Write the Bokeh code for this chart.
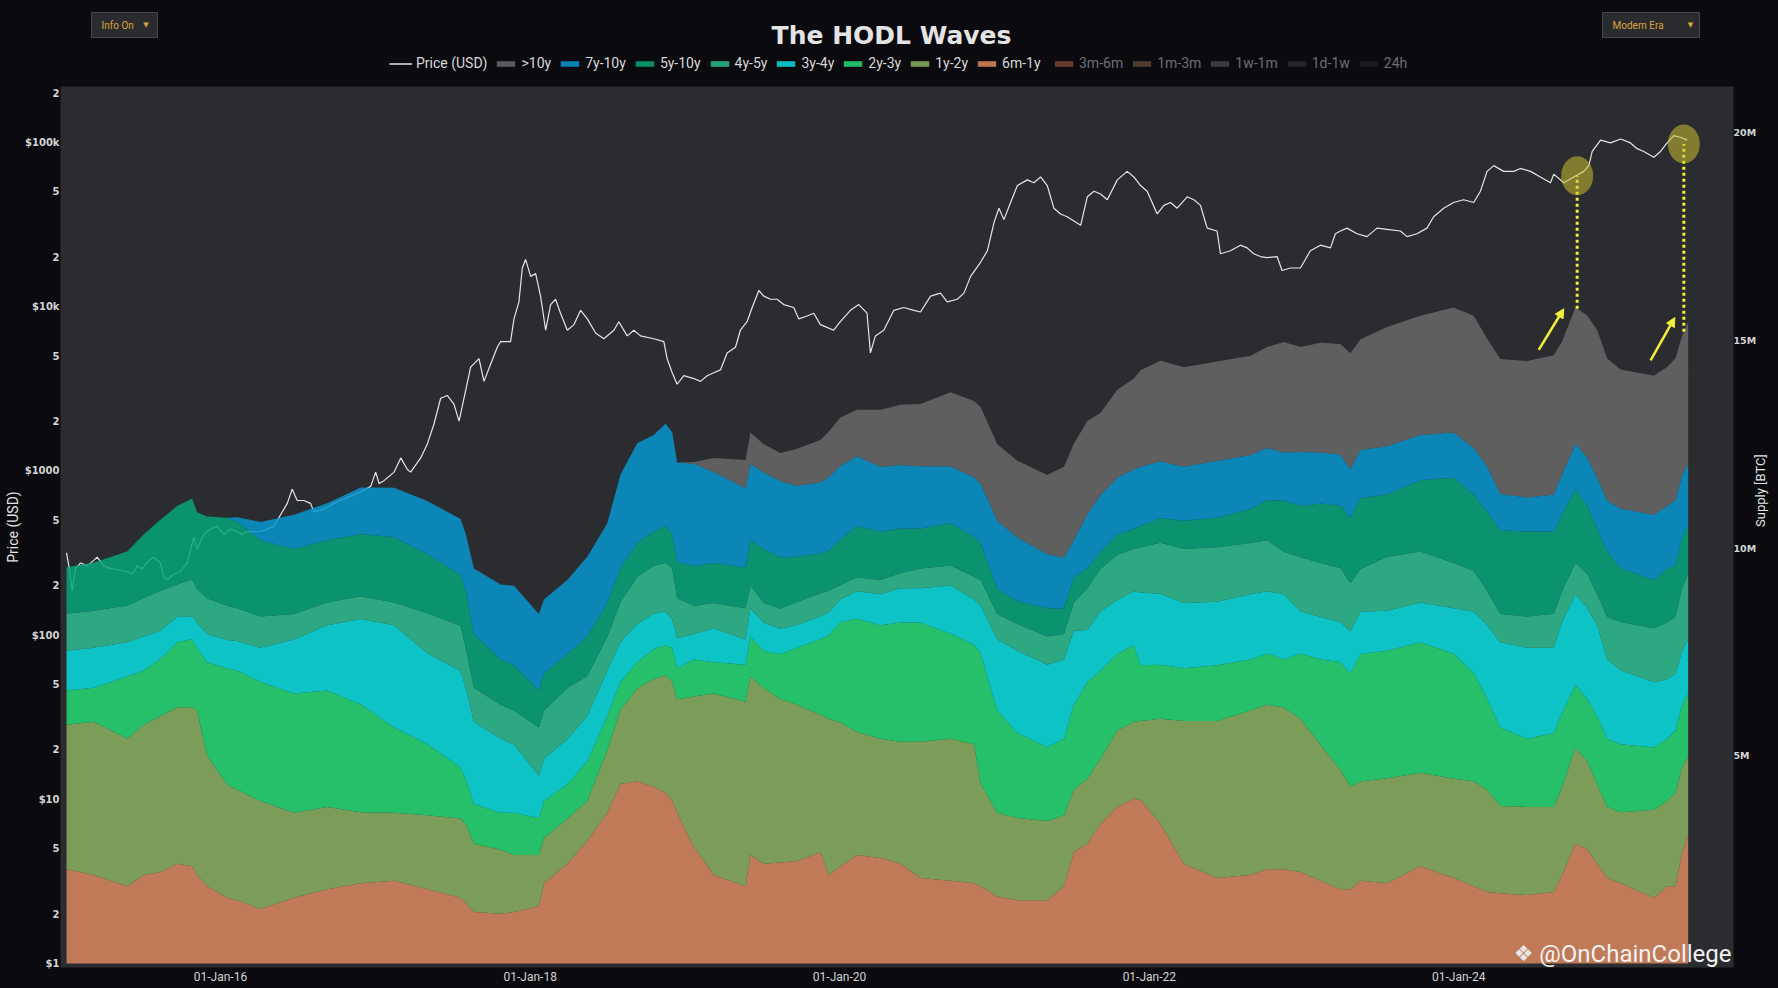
import numpy as np
from datetime import datetime
from bokeh.plotting import figure
from bokeh.layouts import column
from bokeh.models import (Range1d, LinearAxis, LinearScale, FixedTicker, Legend, LegendItem, Label,
                          Arrow, NormalHead, DatetimeTickFormatter)
from bokeh.core.properties import value
from bokeh.embed import file_html
from bokeh.resources import INLINE

# ---------------- data ----------------
# supply held by each age cohort, millions of BTC (only the cohorts shown)
band_dates = [
    2015.005, 2015.182, 2015.397, 2015.505, 2015.612, 2015.720, 2015.817, 2015.849, 2015.914, 2016.043,
    2016.108, 2016.258, 2016.474, 2016.689, 2016.904, 2017.120, 2017.335, 2017.550, 2017.583, 2017.636,
    2017.809, 2017.895, 2018.056, 2018.089, 2018.240, 2018.369, 2018.498, 2018.584, 2018.692, 2018.799,
    2018.875, 2018.918, 2018.950, 2019.058, 2019.187, 2019.392, 2019.424, 2019.510, 2019.618, 2019.725,
    2019.876, 2019.930, 2020.005, 2020.113, 2020.264, 2020.393, 2020.522, 2020.716, 2020.867, 2020.910,
    2021.017, 2021.147, 2021.340, 2021.448, 2021.512, 2021.599, 2021.685, 2021.793, 2021.900, 2021.943,
    2022.072, 2022.223, 2022.438, 2022.654, 2022.762, 2022.869, 2022.977, 2023.106, 2023.235, 2023.300,
    2023.364, 2023.537, 2023.752, 2023.967, 2024.097, 2024.183, 2024.269, 2024.441, 2024.613, 2024.667,
    2024.753, 2024.829, 2024.893, 2024.958, 2025.044, 2025.259, 2025.345, 2025.399, 2025.442, 2025.481]

c_6m_1y = [
    2.27, 2.13, 1.86, 2.13, 2.20, 2.40, 2.34, 2.13, 1.86, 1.58,
    1.52, 1.31, 1.58, 1.79, 1.93, 1.99, 1.79, 1.58, 1.45, 1.24,
    1.20, 1.24, 1.38, 1.93, 2.40, 2.95, 3.63, 4.32, 4.39, 4.25,
    4.11, 3.91, 3.63, 2.81, 2.13, 1.86, 2.61, 2.40, 2.43, 2.47,
    2.68, 2.13, 2.34, 2.61, 2.54, 2.40, 2.06, 1.99, 1.93, 1.86,
    1.61, 1.52, 1.52, 1.86, 2.68, 2.88, 3.36, 3.77, 3.98, 3.93,
    3.36, 2.40, 2.06, 2.13, 2.27, 2.27, 2.20, 1.99, 1.79, 1.79,
    1.99, 1.93, 2.34, 2.06, 1.86, 1.72, 1.69, 1.65, 1.72, 2.13,
    2.88, 2.75, 2.40, 2.06, 1.93, 1.58, 1.86, 1.86, 2.68, 3.09]
c_1y_2y = [
    3.48, 3.69, 3.55, 3.62, 3.76, 3.76, 3.83, 3.96, 3.14, 2.73,
    2.66, 2.60, 2.05, 1.98, 1.71, 1.64, 1.78, 1.91, 1.91, 1.64,
    1.54, 1.37, 1.23, 1.09, 1.09, 0.96, 1.50, 1.78, 2.23, 2.60,
    2.83, 2.87, 2.73, 3.62, 4.37, 4.44, 4.30, 4.23, 3.93, 3.76,
    3.31, 3.76, 3.46, 2.96, 2.87, 2.94, 3.28, 3.42, 3.35, 2.46,
    2.02, 1.98, 1.91, 1.71, 1.50, 1.57, 1.57, 1.84, 1.84, 1.91,
    2.53, 3.44, 3.78, 3.96, 3.96, 3.89, 3.69, 3.28, 2.87, 2.46,
    2.39, 2.53, 2.25, 2.39, 2.53, 2.46, 2.10, 2.12, 2.05, 2.12,
    2.32, 2.12, 1.91, 1.71, 1.71, 2.12, 2.05, 2.25, 2.05, 1.91]
c_2y_3y = [
    0.82, 0.82, 1.50, 1.30, 1.37, 1.57, 1.64, 1.50, 2.25, 2.80,
    2.87, 2.87, 2.87, 2.80, 2.60, 2.05, 1.71, 1.23, 1.09, 0.96,
    0.89, 1.02, 0.89, 0.89, 0.82, 0.96, 0.82, 0.68, 0.64, 0.72,
    0.72, 0.82, 0.75, 0.89, 0.75, 0.89, 0.96, 0.89, 1.09, 1.37,
    1.82, 2.01, 2.42, 2.73, 2.73, 2.87, 2.87, 2.53, 2.39, 3.14,
    2.46, 2.05, 1.78, 1.84, 2.05, 2.32, 2.12, 1.84, 1.84, 1.34,
    1.30, 1.27, 1.34, 1.23, 1.23, 1.16, 1.57, 2.05, 2.60, 2.73,
    3.07, 3.07, 3.14, 3.01, 2.60, 2.19, 1.89, 1.64, 1.78, 1.78,
    1.50, 1.50, 1.64, 1.64, 1.64, 1.50, 1.50, 1.50, 1.50, 1.50]
c_3y_4y = [
    0.96, 0.96, 0.82, 0.82, 0.68, 0.61, 0.55, 0.61, 0.68, 0.68,
    0.71, 0.82, 1.30, 1.57, 2.05, 2.46, 2.19, 2.32, 2.19, 1.98,
    1.78, 1.64, 1.02, 1.02, 1.09, 1.09, 1.09, 0.96, 0.92, 0.85,
    0.82, 0.68, 0.72, 0.61, 0.82, 0.61, 0.68, 0.68, 0.61, 0.55,
    0.55, 0.55, 0.55, 0.66, 0.75, 0.82, 0.82, 1.16, 1.09, 1.16,
    1.71, 1.98, 1.98, 1.91, 1.78, 1.26, 1.43, 1.30, 1.30, 1.75,
    1.71, 1.57, 1.53, 1.57, 1.50, 1.57, 1.02, 1.02, 0.96, 1.02,
    1.02, 0.96, 0.96, 1.09, 1.48, 1.78, 2.05, 2.19, 2.05, 2.19,
    2.19, 2.19, 2.19, 1.91, 1.78, 1.57, 1.43, 1.37, 1.30, 1.30]
c_4y_5y = [
    0.89, 0.89, 0.89, 0.93, 0.96, 0.78, 0.89, 0.82, 0.86, 0.82,
    0.79, 0.75, 0.61, 0.55, 0.55, 0.55, 0.96, 1.09, 0.96, 0.82,
    0.82, 0.82, 1.16, 1.16, 1.23, 0.96, 0.82, 0.96, 1.13, 1.16,
    1.16, 1.23, 0.96, 0.68, 0.61, 0.75, 0.55, 0.48, 0.48, 0.55,
    0.55, 0.52, 0.34, 0.34, 0.34, 0.37, 0.48, 0.48, 0.55, 0.61,
    0.61, 0.64, 0.68, 0.61, 0.68, 1.00, 1.02, 1.09, 1.02, 1.09,
    1.23, 1.30, 1.31, 1.23, 1.23, 1.02, 1.30, 1.30, 1.30, 1.16,
    1.02, 1.30, 1.23, 1.09, 0.98, 0.82, 0.68, 0.75, 0.82, 0.75,
    0.75, 0.82, 0.75, 1.02, 1.16, 1.30, 1.37, 1.37, 1.50, 1.57]
c_5y_10y = [
    1.12, 1.16, 1.30, 1.53, 1.71, 1.89, 1.94, 1.84, 1.97, 2.12,
    2.08, 1.84, 1.57, 1.50, 1.50, 1.57, 1.43, 1.23, 1.37, 1.30,
    1.09, 1.09, 0.89, 0.89, 0.82, 0.96, 0.82, 0.82, 0.82, 0.82,
    0.89, 0.82, 0.87, 0.96, 0.96, 0.98, 1.09, 1.30, 1.23, 1.09,
    0.96, 0.96, 1.09, 1.23, 1.16, 1.07, 0.96, 1.02, 0.96, 0.89,
    0.61, 0.55, 0.68, 0.61, 0.61, 0.48, 0.41, 0.48, 0.48, 0.51,
    0.59, 0.68, 0.71, 0.82, 0.96, 1.23, 1.23, 1.43, 1.50, 1.57,
    1.71, 1.50, 1.71, 2.05, 1.84, 1.91, 2.02, 2.05, 1.98, 1.84,
    1.78, 1.64, 1.57, 1.57, 1.30, 1.16, 1.30, 1.23, 1.23, 1.16]
c_7y_10y = [
    0.00, 0.00, 0.00, 0.00, 0.00, 0.00, 0.00, 0.00, 0.00, 0.00,
    0.11, 0.44, 0.82, 0.89, 1.12, 1.19, 1.27, 1.34, 1.37, 1.57,
    1.80, 1.91, 1.84, 1.78, 1.78, 1.91, 1.91, 2.25, 2.39, 2.32,
    2.46, 2.46, 2.40, 2.46, 2.19, 1.91, 1.84, 1.84, 1.84, 1.71,
    1.71, 1.78, 1.78, 1.68, 1.57, 1.53, 1.50, 1.37, 1.43, 1.43,
    1.64, 1.54, 1.30, 1.23, 0.89, 1.30, 1.37, 1.37, 1.43, 1.43,
    1.37, 1.30, 1.37, 1.30, 1.26, 1.16, 1.30, 1.23, 1.23, 1.16,
    1.16, 1.16, 1.09, 1.09, 1.12, 1.09, 0.87, 0.82, 0.89, 0.96,
    1.09, 1.16, 1.23, 1.23, 1.43, 1.57, 1.50, 1.57, 1.50, 1.50]
c_10y_plus = [
    0.00, 0.00, 0.00, 0.00, 0.00, 0.00, 0.00, 0.00, 0.00, 0.00,
    0.00, 0.00, 0.00, 0.00, 0.00, 0.00, 0.00, 0.00, 0.00, 0.00,
    0.00, 0.00, 0.00, 0.00, 0.00, 0.00, 0.00, 0.00, 0.00, 0.00,
    0.00, 0.00, 0.00, 0.04, 0.34, 0.68, 0.75, 0.68, 0.68, 0.89,
    1.02, 1.09, 1.16, 1.12, 1.37, 1.45, 1.50, 1.78, 1.84, 1.84,
    1.84, 1.84, 1.91, 2.19, 2.32, 2.25, 1.98, 2.12, 2.19, 2.32,
    2.42, 2.39, 2.39, 2.39, 2.43, 2.66, 2.53, 2.64, 2.66, 2.80,
    2.66, 2.87, 2.87, 3.01, 3.18, 3.07, 3.25, 3.28, 3.35, 3.21,
    3.28, 3.42, 3.55, 3.42, 3.35, 3.35, 3.35, 3.42, 3.35, 3.42]

# BTC price (USD)
price_dates = [
    2015.005, 2015.020, 2015.042, 2015.063, 2015.096, 2015.139, 2015.182, 2015.203, 2015.246, 2015.289,
    2015.343, 2015.397, 2015.429, 2015.462, 2015.494, 2015.537, 2015.569, 2015.612, 2015.634, 2015.655,
    2015.698, 2015.742, 2015.785, 2015.828, 2015.849, 2015.892, 2015.935, 2015.978, 2016.022, 2016.065,
    2016.108, 2016.140, 2016.172, 2016.258, 2016.345, 2016.388, 2016.431, 2016.463, 2016.495, 2016.538,
    2016.581, 2016.603, 2016.667, 2016.732, 2016.818, 2016.904, 2016.969, 2017.001, 2017.023, 2017.055,
    2017.120, 2017.163, 2017.206, 2017.227, 2017.292, 2017.335, 2017.378, 2017.421, 2017.464, 2017.507,
    2017.540, 2017.572, 2017.615, 2017.669, 2017.701, 2017.744, 2017.787, 2017.809, 2017.873, 2017.895,
    2017.927, 2017.949, 2017.970, 2018.003, 2018.035, 2018.067, 2018.100, 2018.132, 2018.164, 2018.196,
    2018.240, 2018.283, 2018.326, 2018.369, 2018.423, 2018.476, 2018.541, 2018.573, 2018.627, 2018.670,
    2018.713, 2018.799, 2018.864, 2018.885, 2018.918, 2018.950, 2018.993, 2019.058, 2019.101, 2019.144,
    2019.187, 2019.230, 2019.273, 2019.327, 2019.359, 2019.402, 2019.435, 2019.478, 2019.510, 2019.553,
    2019.596, 2019.639, 2019.704, 2019.736, 2019.790, 2019.833, 2019.876, 2019.919, 2019.962, 2020.005,
    2020.070, 2020.124, 2020.177, 2020.199, 2020.231, 2020.285, 2020.350, 2020.414, 2020.479, 2020.522,
    2020.587, 2020.651, 2020.694, 2020.759, 2020.802, 2020.845, 2020.910, 2020.953, 2020.996, 2021.028,
    2021.060, 2021.103, 2021.147, 2021.211, 2021.254, 2021.297, 2021.340, 2021.383, 2021.426, 2021.469,
    2021.556, 2021.599, 2021.642, 2021.685, 2021.728, 2021.793, 2021.857, 2021.900, 2021.943, 2021.986,
    2022.051, 2022.094, 2022.137, 2022.180, 2022.245, 2022.288, 2022.331, 2022.352, 2022.374, 2022.438,
    2022.460, 2022.525, 2022.589, 2022.632, 2022.675, 2022.718, 2022.762, 2022.826, 2022.858, 2022.912,
    2022.977, 2023.041, 2023.106, 2023.171, 2023.203, 2023.235, 2023.278, 2023.343, 2023.407, 2023.472,
    2023.537, 2023.623, 2023.666, 2023.730, 2023.795, 2023.838, 2023.903, 2023.967, 2024.032, 2024.097,
    2024.140, 2024.183, 2024.226, 2024.290, 2024.355, 2024.398, 2024.463, 2024.527, 2024.592, 2024.613,
    2024.678, 2024.742, 2024.807, 2024.839, 2024.861, 2024.915, 2024.979, 2025.044, 2025.108, 2025.151,
    2025.194, 2025.259, 2025.302, 2025.345, 2025.388, 2025.431, 2025.475]
price_usd = [
    317, 264, 185, 254, 275, 264, 286, 298, 264, 254,
    250, 244, 234, 264, 254, 286, 298, 275, 225, 217,
    234, 244, 275, 394, 336, 409, 443, 461, 409, 443,
    426, 409, 426, 426, 461, 541, 634, 774, 660, 660,
    634, 563, 586, 634, 687, 744, 805, 983, 838, 872,
    983, 1200, 1020, 983, 1200, 1460, 1930, 2770, 2880, 2550,
    2010, 2770, 4280, 4830, 3510, 4460, 5660, 6130, 6130, 8430,
    10700, 17200, 19400, 15300, 15900, 11600, 7190, 10300, 11100, 9130,
    7190, 7780, 9500, 8430, 6910, 6380, 7190, 8100, 6640, 7190,
    6640, 6380, 6130, 4830, 3960, 3370, 3800, 3650, 3510, 3800,
    3960, 4120, 5230, 5660, 7190, 8100, 9890, 12550, 11600, 11100,
    11100, 10300, 9890, 8430, 8770, 9130, 7780, 7480, 7190, 8100,
    9500, 10300, 9130, 5230, 6640, 7190, 9500, 9890, 9500, 9280,
    11600, 12100, 10700, 11100, 12100, 15300, 18700, 21900, 32600, 39800,
    33900, 43100, 54700, 59200, 56900, 61700, 54700, 39800, 36700, 35300,
    31300, 46700, 50500, 48600, 44800, 59200, 66700, 61700, 54700, 50500,
    36700, 41400, 43100, 39800, 46700, 44800, 41400, 35300, 30100, 28900,
    21000, 21900, 23700, 22800, 21000, 20200, 19900, 20200, 16600, 17200,
    17200, 21900, 23700, 22800, 27800, 28900, 30100, 27800, 26700, 30100,
    29600, 28900, 26700, 27800, 30100, 35300, 39800, 43100, 44800, 43100,
    50500, 66700, 72300, 66700, 66700, 69500, 66700, 61700, 56900, 64200,
    56900, 61700, 66700, 72300, 88200, 103400, 99400, 105100, 99400, 91700,
    88200, 81400, 88200, 99400, 110200, 107600, 103400]

# highlighted moments (circles on the price line) and arrows
highlight_dates = [2024.764, 2025.453]
highlight_prices = [62700, 97800]
arrow_tail_dates = [2024.516, 2025.238]
arrow_tail_supply = [14.77, 14.52]
arrow_head_dates = [2024.678, 2025.395]
arrow_head_supply = [15.76, 15.55]

price_ticks = [1, 2, 5, 10, 20, 50, 100, 200, 500, 1000, 2000, 5000,
               10000, 20000, 50000, 100000, 200000]
price_tick_labels = ["$1", "2", "5", "$10", "2", "5", "$100", "2", "5", "$1000", "2", "5",
                     "$10k", "2", "5", "$100k", "2"]
supply_ticks = [5, 10, 15, 20]
supply_tick_labels = ["5M", "10M", "15M", "20M"]
x_tick_years = [2016, 2018, 2020, 2022, 2024]

# ---------------- helpers ----------------
def to_dt(y):
    yr = int(np.floor(y))
    a, b = datetime(yr, 1, 1), datetime(yr + 1, 1, 1)
    return a + (b - a) * (y - yr)

def to_ms(y):
    return (to_dt(y) - datetime(1970, 1, 1)).total_seconds() * 1000.0

PAGE_BG = "#0a0a0f"
FRAME_BG = "#2b2c30"
X0, X1 = 2014.966, 2025.774
PY0, PY1 = 0.945, 219300.0
SY0, SY1 = -0.096, 21.11
W = 1778            # page is drawn from its very top-left corner
TOP_H = 86          # header strip height; the chart frame starts right below it
MAIN_H = 988 - TOP_H
BL, BR = 60, 45     # left / right borders -> frame spans x = 60 .. 1733

cohorts = [  # bottom -> top
    ("6m-1y", c_6m_1y, "#da885f"),
    ("1y-2y", c_1y_2y, "#8bb061"),
    ("2y-3y", c_2y_3y, "#26db75"),
    ("3y-4y", c_3y_4y, "#09dee0"),
    ("4y-5y", c_4y_5y, "#2ebe90"),
    ("5y-10y", c_5y_10y, "#05a679"),
    ("7y-10y", c_7y_10y, "#0796ce"),
    (">10y", c_10y_plus, "#696968"),
]
hidden = [("3m-6m", "#6a3e2a"), ("1m-3m", "#4d3b2d"), ("1w-1m", "#3a3a3c"),
          ("1d-1w", "#242427"), ("24h", "#1b1b1e")]
PRICE_COLOR = "#e6e6e6"

# ================= header strip: title, drop-downs, legend =================
# x / y ranges equal page pixels inside the strip's frame
top = figure(width=W, height=TOP_H, x_range=Range1d(BL, W - BR), y_range=Range1d(TOP_H, 0),
             output_backend="svg", toolbar_location=None, x_axis_location=None,
             y_axis_location=None, background_fill_color=PAGE_BG, border_fill_color=PAGE_BG,
             min_border_left=BL, min_border_right=BR, min_border_top=0, min_border_bottom=0)
top.outline_line_color = None
top.grid.visible = False

top.text(x=[891], y=[35], text=["The HODL Waves"], text_font=value("DejaVu Sans"),
         text_font_style="bold", text_font_size="25px", text_color="#e4e4e4",
         text_align="center", text_baseline="middle")
top.rect(x=[124, 1650.5], y=[24.5, 24.5], width=[66, 97], height=[25, 25],
         fill_color="#2a2b2f", line_color="#46474c", line_width=1)
top.text(x=[101, 1612], y=[24.5, 24.5], text=["Info On", "Modern Era"], text_font=value("Roboto"),
         text_font_size="10px", text_color="#d9a43a", text_align="left", text_baseline="middle")
top.text(x=[145.5, 1690], y=[24.5, 24.5], text=["\u25bc", "\u25bc"], text_font=value("DejaVu Sans"),
         text_font_size="7px", text_color="#d9a43a", text_align="center", text_baseline="middle")

# legend key proxies (their points lie outside the strip's ranges)
OFF = dict(x=[-900, -800])
leg_price = top.line(x=OFF["x"], y=[-900, -900], line_color=PRICE_COLOR, line_width=1.5)
leg_band = {name: top.varea(x=OFF["x"], y1=[-900, -900], y2=[-899, -899], fill_color=c,
                            fill_alpha=0.85) for name, _, c in cohorts}
leg_hidden = {name: top.varea(x=OFF["x"], y1=[-900, -900], y2=[-899, -899], fill_color=c)
              for name, c in hidden}

common = dict(orientation="horizontal", background_fill_alpha=0, border_line_alpha=0,
              label_text_font="Roboto", label_text_font_size="14px", glyph_width=23,
              glyph_height=7, label_height=7, label_standoff=4, spacing=7, padding=0, margin=0)
items1 = [LegendItem(label="Price (USD)", renderers=[leg_price])]
for name in [">10y", "7y-10y", "5y-10y", "4y-5y", "3y-4y", "2y-3y", "1y-2y", "6m-1y"]:
    items1.append(LegendItem(label=name, renderers=[leg_band[name]]))
legend1 = Legend(items=items1, location=(389 - BL, 15), label_text_color="#d8d8d8", **common)
items2 = [LegendItem(label=name, renderers=[leg_hidden[name]]) for name, _ in hidden]
legend2 = Legend(items=items2, location=(1052 - BL, 15), label_text_color="#6f6f72", **common)
top.add_layout(legend1)
top.add_layout(legend2)

# ================= main chart =================
p = figure(width=W, height=MAIN_H, x_axis_type="datetime", y_axis_type="log",
           x_range=Range1d(to_dt(X0), to_dt(X1)), y_range=Range1d(PY0, PY1),
           output_backend="svg", toolbar_location=None,
           background_fill_color=FRAME_BG, border_fill_color=PAGE_BG,
           min_border_left=BL, min_border_right=BR, min_border_top=0, min_border_bottom=21)
p.outline_line_color = None
p.xgrid.visible = False
p.ygrid.visible = False
p.extra_y_ranges = {"supply": Range1d(SY0, SY1)}
p.extra_y_scales = {"supply": LinearScale()}

def style_axis(ax, font="DejaVu Sans", size="10px", bold=True):
    ax.axis_line_color = None
    ax.major_tick_line_color = None
    ax.minor_tick_line_color = None
    ax.major_tick_out = 0
    ax.major_tick_in = 0
    ax.minor_tick_out = 0
    ax.minor_tick_in = 0
    ax.major_label_text_font = font
    ax.major_label_text_font_size = size
    ax.major_label_text_font_style = "bold" if bold else "normal"
    ax.major_label_text_color = "#d4d4d4"
    ax.axis_label_text_font = "Roboto"
    ax.axis_label_text_font_size = "14px"
    ax.axis_label_text_font_style = "normal"
    ax.axis_label_text_color = "#e4e4e4"
    ax.major_label_standoff = 1
    ax.axis_label_standoff = 1

ya = p.yaxis[0]
style_axis(ya)
ya.ticker = FixedTicker(ticks=price_ticks)
ya.major_label_overrides = {t: l for t, l in zip(price_ticks, price_tick_labels)}
ya.axis_label = "Price (USD)"

xa = p.xaxis[0]
style_axis(xa, font="Roboto", size="12px", bold=False)
xa.ticker = FixedTicker(ticks=[to_ms(y) for y in x_tick_years])
fmt = "%d-%b-%y"
xa.formatter = DatetimeTickFormatter(years=fmt, months=fmt, days=fmt, hours=fmt,
                                     minutes=fmt, seconds=fmt, milliseconds=fmt, microseconds=fmt)
xa.major_label_standoff = 2

ra = LinearAxis(y_range_name="supply", ticker=FixedTicker(ticks=supply_ticks),
                axis_label="Supply [BTC]")
style_axis(ra, size="9.5px")
ra.axis_label_text_font_size = "13px"
ra.major_label_standoff = 0
ra.axis_label_standoff = 1
ra.major_label_overrides = {t: l for t, l in zip(supply_ticks, supply_tick_labels)}
ra.axis_label_orientation = np.pi / 2
p.add_layout(ra, "right")

# price line (drawn under the semi-transparent bands)
price_dt = [to_dt(d) for d in price_dates]
p.line(price_dt, price_usd, line_color=PRICE_COLOR, line_width=1.2)

# stacked supply bands
band_dt = [to_dt(d) for d in band_dates]
lower = np.zeros(len(band_dates))
for name, vals, color in cohorts:
    upper = lower + np.asarray(vals, dtype=float)
    p.varea(x=band_dt, y1=lower, y2=upper, fill_color=color, fill_alpha=0.85,
            y_range_name="supply")
    lower = upper
stack_top = lower

# highlights
def price_to_supply(pr):
    f = (np.log10(pr) - np.log10(PY0)) / (np.log10(PY1) - np.log10(PY0))
    return SY0 + f * (SY1 - SY0)

YEL = "#f4ef3a"
for d, pr in zip(highlight_dates, highlight_prices):
    s_top = price_to_supply(pr)
    s_bot = float(np.interp(d, band_dates, stack_top))
    p.segment(x0=[to_dt(d)], y0=[s_bot], x1=[to_dt(d)], y1=[s_top], y_range_name="supply",
              line_color=YEL, line_width=3, line_dash="3 3")
p.ellipse(x=[to_dt(d) for d in highlight_dates], y=highlight_prices, width=32, height=39,
          width_units="screen", height_units="screen", fill_color="#c8c030", fill_alpha=0.55,
          line_color=None)
for xs, ys, xe, ye in zip(arrow_tail_dates, arrow_tail_supply, arrow_head_dates, arrow_head_supply):
    p.add_layout(Arrow(end=NormalHead(size=9, fill_color=YEL, line_color=YEL),
                       x_start=to_ms(xs), y_start=ys, x_end=to_ms(xe), y_end=ye,
                       y_range_name="supply", line_color=YEL, line_width=2.5))

# watermark (bottom right, kept inside the plotting area)
FW = W - BL - BR
p.add_layout(Label(x=FW - 2, y=14, x_units="screen", y_units="screen", text="@OnChainCollege",
                   text_font="Roboto", text_font_size="24px", text_color="#f2f2f2",
                   text_align="right", text_baseline="middle"))
p.add_layout(Label(x=FW - 210, y=14, x_units="screen", y_units="screen", text="\u2756",
                   text_font="DejaVu Sans", text_font_size="22px", text_color="#e8e8e8",
                   text_align="center", text_baseline="middle"))

layout = column(top, p, spacing=0)
html = file_html(layout, INLINE, title="The HODL Waves")
html = html.replace("<head>", "<head><style>html,body{background:#0a0a0f;overflow:hidden;}</style>", 1)
open("out.html", "w").write(html)
